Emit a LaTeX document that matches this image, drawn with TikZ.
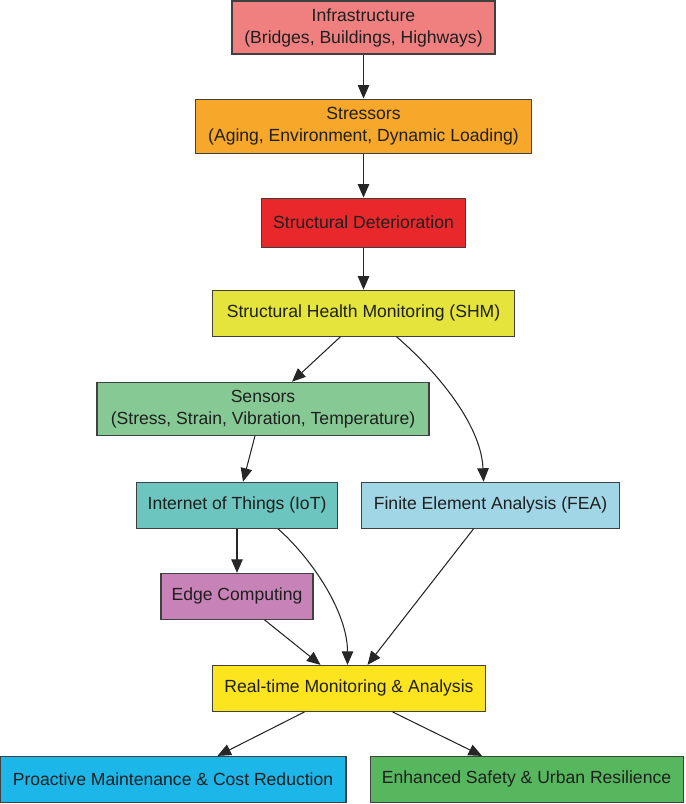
\documentclass[tikz,border=0pt]{standalone}
\usepackage{fontspec}
\setmainfont{Liberation Sans}
\usetikzlibrary{shapes,arrows.meta,positioning}

\definecolor{infracol}{HTML}{F08080}
\definecolor{stresscol}{HTML}{F7A82B}
\definecolor{decaycol}{HTML}{E9282C}
\definecolor{shmcol}{HTML}{E4E43C}
\definecolor{sensorcol}{HTML}{86C994}
\definecolor{iotcol}{HTML}{6CC5BE}
\definecolor{feacol}{HTML}{A1D6E6}
\definecolor{edgecol}{HTML}{C783B7}
\definecolor{realcol}{HTML}{FCE41E}
\definecolor{maintcol}{HTML}{1DB6E8}
\definecolor{safecol}{HTML}{57B75F}

\begin{document}
\begin{tikzpicture}[node distance=0.9cm, auto,
        box/.style={rectangle, draw=black!75, line width=0.6pt, text=black!88, align=center, minimum height=0.92cm, inner sep=2pt, font=\fontsize{10}{12.5}\selectfont},
        flow/.style={-{Triangle[length=0.27cm,width=0.23cm]}, draw=black!85, line width=0.6pt}]
        \useasboundingbox (0,0) rectangle (13.7,-16.08);
        \node [box, fill=infracol, minimum width=5.26cm, minimum height=1.06cm] (infra) at (7.27,-0.55) {Infrastructure\\(Bridges, Buildings, Highways)};
        \node [box, fill=stresscol, minimum width=6.72cm, minimum height=1.08cm, below=0.88cm of infra] (stress) {Stressors\\(Aging, Environment, Dynamic Loading)};
        \node [box, fill=decaycol, minimum width=4.08cm, minimum height=0.98cm, below=0.88cm of stress] (decay) {Structural Deterioration};
        \node [box, fill=shmcol, minimum width=6.04cm, below=0.84cm of decay] (shm) {Structural Health Monitoring (SHM)};
        \node [box, fill=sensorcol, minimum width=6.64cm, minimum height=1.06cm, below=0.9cm of shm, xshift=-2.01cm] (sensors) {Sensors\\(Stress, Strain, Vibration, Temperature)};
        \node [box, fill=iotcol, minimum width=4.02cm, below=0.92cm of sensors, xshift=-0.52cm] (iot) {Internet of Things (IoT)};
        \node [box, fill=feacol, minimum width=5.16cm, right=0.46cm of iot] (fea) {Finite Element Analysis (FEA)};
        \node [box, fill=edgecol, minimum width=3.04cm, below=0.88cm of iot] (edgecomp) {Edge Computing};
        \node [box, fill=realcol, minimum width=5.46cm, below=0.9cm of edgecomp, xshift=2.24cm] (realtime) {Real-time Monitoring \& Analysis};
        \node [box, fill=maintcol, minimum width=6.92cm, below=0.88cm of realtime, xshift=-3.52cm] (maint) {Proactive Maintenance \& Cost Reduction};
        \node [box, fill=safecol, minimum width=6.26cm, right=0.46cm of maint] (safety) {Enhanced Safety \& Urban Resilience};

        \draw [flow] (infra) -- (stress);
        \draw [flow] (stress) -- (decay);
        \draw [flow] (decay.south) -- (decay.south |- shm.north);
        \draw [flow] ([xshift=-0.46cm]shm.south) -- ([xshift=0.58cm]sensors.north);
        \draw [flow] ([xshift=0.66cm]shm.south) .. controls +(0.7,-0.6) and +(-0.05,1.2) .. ([xshift=-0.14cm]fea.north);
        \draw [flow] ([xshift=-0.16cm]sensors.south) -- ([xshift=0.12cm]iot.north);
        \draw [flow] (iot) -- (edgecomp);
        \draw [flow] ([xshift=0.82cm]iot.south) .. controls +(0.64,-0.56) and +(0,1.08) .. ([xshift=-0.03cm]realtime.north);
        \draw [flow] ([xshift=0.55cm]edgecomp.south) -- ([xshift=-0.57cm]realtime.north);
        \draw [flow] ([xshift=-0.34cm]fea.south) -- ([xshift=0.37cm]realtime.north);
        \draw [flow] ([xshift=-0.89cm]realtime.south) -- ([xshift=0.89cm]maint.north);
        \draw [flow] ([xshift=0.87cm]realtime.south) -- ([xshift=-0.89cm]safety.north);
    \end{tikzpicture}
\end{document}
